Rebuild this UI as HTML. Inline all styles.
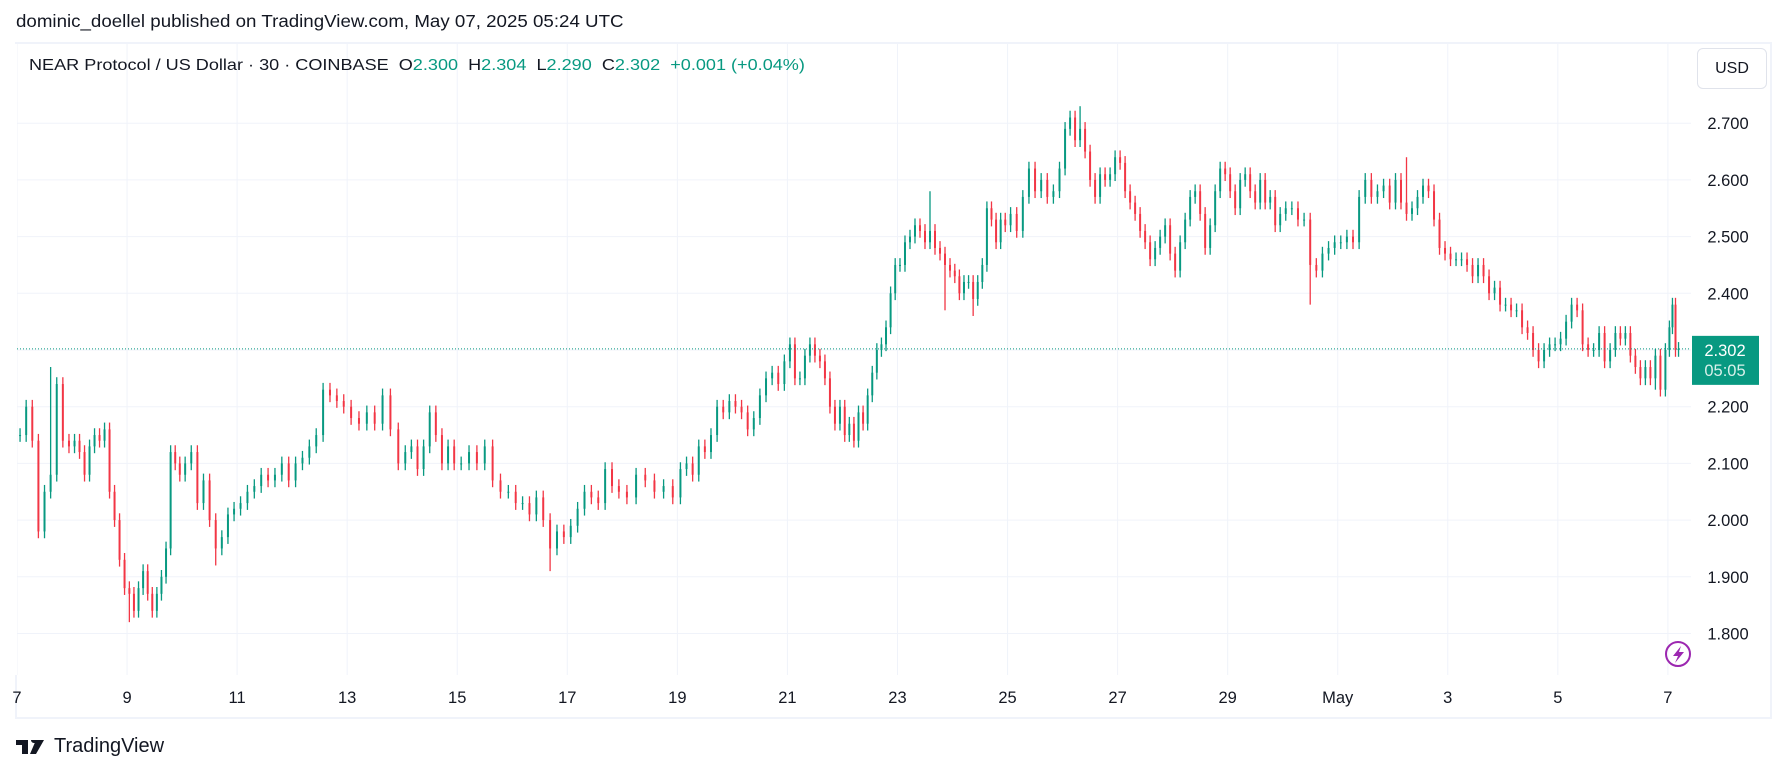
<!DOCTYPE html>
<html><head><meta charset="utf-8">
<style>
body{margin:0;width:1788px;height:774px;background:#fff;overflow:hidden;font-family:"Liberation Sans",sans-serif;color:#131722;position:relative}
#hdr{position:absolute;left:16px;top:11px;font-size:17.5px;transform-origin:0 0;transform:scaleX(1.07);white-space:nowrap}
#frame{position:absolute;left:15px;top:42px;width:1757px;height:677px;border:2px solid #f0f3fa;box-sizing:border-box}
#legend{position:absolute;left:29px;top:57px;font-size:16px;white-space:pre;transform-origin:0 0;transform:scaleX(1.13)}
.g{color:#089981}
#usd{position:absolute;left:1697px;top:48px;width:70px;height:41px;border:1px solid #e0e3eb;border-radius:6px;box-sizing:border-box;font-size:16px;text-align:center;line-height:39px}
#logo{position:absolute;left:16px;top:735px;font-size:20px;display:flex;align-items:center;gap:8px}
svg{position:absolute;left:0;top:0}
</style></head><body>
<div id="hdr">dominic_doellel published on TradingView.com, May 07, 2025 05:24 UTC</div>
<div id="frame"></div>
<svg id="chart" width="1788" height="774"></svg>
<div id="legend">NEAR Protocol / US Dollar · 30 · COINBASE  O<span class="g">2.300</span>  H<span class="g">2.304</span>  L<span class="g">2.290</span>  C<span class="g">2.302</span>  <span class="g">+0.001 (+0.04%)</span></div>
<div id="usd">USD</div>
<div id="logo"><svg style="position:static" width="30" height="14" viewBox="0 0 30 14"><path d="M0 0h12v14H6V5H0z M15 0a3 3 0 1 1 0 .01z M20 0h8l-8 14h-6z" fill="#131722"/></svg><span>TradingView</span></div>
<script>
const dayCloses=[
[2.15,2.20,2.14,1.98,2.05,2.08,2.24,2.14,2.13],
[2.14,2.12,2.08,2.13,2.15,2.14,2.16,2.05,2.00,1.93,1.88],
[1.87,1.84,1.88,1.91,1.87,1.84,1.87,1.90,1.95,2.12,2.10,2.08],
[2.10,2.12,2.03,2.07,2.00,1.95,1.97,2.01,2.02],
[2.03,2.05,2.06,2.08,2.07,2.08,2.10,2.07],
[2.10,2.11,2.13,2.15,2.23,2.22,2.21,2.20],
[2.18,2.17,2.19,2.17,2.22,2.16,2.10],
[2.12,2.13,2.09,2.13,2.19,2.15,2.10,2.13,2.10],
[2.10,2.12,2.10,2.13,2.07,2.05,2.05],
[2.03,2.03,2.01,2.04,2.00,1.95,1.98,1.97],
[1.99,2.02,2.05,2.04,2.03,2.09,2.06,2.05],
[2.04,2.08,2.07,2.05,2.06,2.04],
[2.09,2.10,2.08,2.13,2.12,2.15,2.20,2.19,2.21],
[2.20,2.19,2.16,2.18,2.22,2.25,2.26,2.24,2.28],
[2.31,2.25,2.25,2.29,2.31,2.29,2.28,2.25,2.20,2.17,2.20],
[2.15,2.17,2.14,2.19,2.17,2.22,2.26,2.30,2.31,2.34,2.40,2.45],
[2.45,2.49,2.50,2.52,2.51,2.49,2.51,2.48,2.47,2.45,2.44],
[2.43,2.40,2.42,2.42,2.39,2.42,2.45,2.55,2.53,2.49,2.53,2.52],
[2.54,2.51,2.57,2.62,2.58,2.60,2.57,2.58,2.62],
[2.69,2.71,2.67,2.69,2.65,2.60,2.57,2.61,2.60,2.61,2.64],
[2.63,2.58,2.56,2.54,2.51,2.49,2.46,2.48,2.50,2.52,2.47],
[2.44,2.49,2.53,2.57,2.58,2.54,2.48,2.52,2.58,2.62,2.61],
[2.58,2.55,2.60,2.61,2.58,2.56,2.60,2.56,2.57,2.52,2.54],
[2.55,2.55,2.53,2.53,2.45,2.44,2.47,2.48,2.49],
[2.49,2.50,2.49,2.57,2.60,2.57,2.58,2.59,2.56],
[2.60,2.56,2.54,2.55,2.57,2.59,2.58,2.53,2.48,2.47],
[2.46,2.46,2.46,2.45,2.43,2.45,2.43,2.40,2.41,2.38],
[2.38,2.37,2.37,2.34,2.33,2.30,2.28,2.30,2.31,2.31],
[2.32,2.35,2.38,2.37,2.31,2.30,2.30,2.33,2.28,2.30],
[2.33,2.32,2.33,2.29,2.27,2.25,2.27,2.25,2.29,2.23,2.30],
[2.34,2.38,2.30,2.302]
];
const lastDayHours=5.3;
const spikeDays=[0.58,2.05,2.5,3.6,9.7,16.55,16.85,17.35,19.3,23.45,25.3,29.75,30.1];
const spikeValues=[2.27,1.82,1.83,1.92,1.91,2.58,2.37,2.36,2.73,2.38,2.64,2.23,2.39];
const priceTicks=[1.8,1.9,2.0,2.1,2.2,2.3,2.4,2.5,2.6,2.7];
const timeTickDays=[0,2,4,6,8,10,12,14,16,18,20,22,24,26,28,30];
const timeTickLabels=["7","9","11","13","15","17","19","21","23","25","27","29","May","3","5","7"];
const lastPrice=2.302;

const X0=17,DAYW=55.03,PLOT_R=1691,PLOT_T=44,PLOT_B=675;
const xS=d=>X0+d*DAYW;
const yS=p=>123.2+(2.7-p)*567;
const NS="http://www.w3.org/2000/svg";
const svg=document.getElementById('chart');
function mk(t,a){const e=document.createElementNS(NS,t);for(const k in a)e.setAttribute(k,a[k]);svg.appendChild(e);return e;}
priceTicks.forEach(p=>{
 const l=mk('line',{x1:17,x2:PLOT_R,y1:yS(p),y2:yS(p),stroke:'#f0f3fa','stroke-width':1});
 
 
 if(Math.abs(p-2.3)<1e-6)return;
 const t=mk('text',{x:1728,y:yS(p)+6,'font-size':16.5,'text-anchor':'middle',fill:'#131722','font-family':'Liberation Sans, sans-serif'});
 t.textContent=p.toFixed(3);
 
 
});
timeTickDays.forEach((d,i)=>{
 const l=mk('line',{x1:xS(d),x2:xS(d),y1:PLOT_T,y2:PLOT_B,stroke:'#f0f3fa','stroke-width':1});
 
 
 const t=mk('text',{x:xS(d),y:703,'font-size':16.5,'text-anchor':'middle',fill:'#131722','font-family':'Liberation Sans, sans-serif'});
 t.textContent=timeTickLabels[i];
 
 
});
mk('rect',{x:0,y:PLOT_T,width:17,height:PLOT_B-PLOT_T,fill:'#fff'});
let prev=dayCloses[0][0];
const cands=[];
dayCloses.forEach((arr,d)=>{
 const span=(d===dayCloses.length-1)?lastDayHours/24:1;
 arr.forEach((c,i)=>{
  const t=d+(i+0.5)*span/arr.length;
  cands.push({t,o:prev,c,h:Math.max(prev,c)+0.012,l:Math.min(prev,c)-0.012});
  prev=c;
 });
});
spikeDays.forEach((sd,i)=>{
 let best=cands[0];cands.forEach(k=>{if(Math.abs(k.t-sd)<Math.abs(best.t-sd))best=k;});
 if(spikeValues[i]>best.h)best.h=spikeValues[i];
 if(spikeValues[i]<best.l)best.l=spikeValues[i];
});
cands.forEach(k=>{
 const col=k.c>=k.o?'#089981':'#f23645';
 const x=xS(k.t);
 const w=mk('line',{x1:x,x2:x,y1:yS(k.h),y2:yS(k.l),stroke:col,'stroke-width':1.3});
 
 
 const top=yS(Math.max(k.o,k.c)),bot=yS(Math.min(k.o,k.c));
 const b=mk('rect',{x:x-1,y:top,width:2,height:Math.max(1,bot-top),fill:col});
 
 
});
const pl=mk('line',{x1:17,x2:PLOT_R,y1:yS(lastPrice),y2:yS(lastPrice),stroke:'#089981','stroke-width':1,'stroke-dasharray':'1 2'});


const lb=mk('rect',{x:1692,y:yS(lastPrice)-13,width:67,height:49,fill:'#089981'});


const lt=mk('text',{x:1725,y:yS(lastPrice)+7,'font-size':16.5,'text-anchor':'middle',fill:'#fff','font-family':'Liberation Sans, sans-serif'});
lt.textContent=lastPrice.toFixed(3);


const ct=mk('text',{x:1725,y:yS(lastPrice)+27,'font-size':16.5,'text-anchor':'middle',fill:'#d8f0ea','font-family':'Liberation Sans, sans-serif'});
ct.textContent='05:05';


const ic=mk('circle',{cx:1678,cy:654,r:12,fill:'none',stroke:'#9c27b0','stroke-width':2});


mk('path',{d:'M1681 646 L1673 656 L1678 656 L1675 663 L1684 652 L1679 652 Z',fill:'#9c27b0'});
</script>
</body></html>
